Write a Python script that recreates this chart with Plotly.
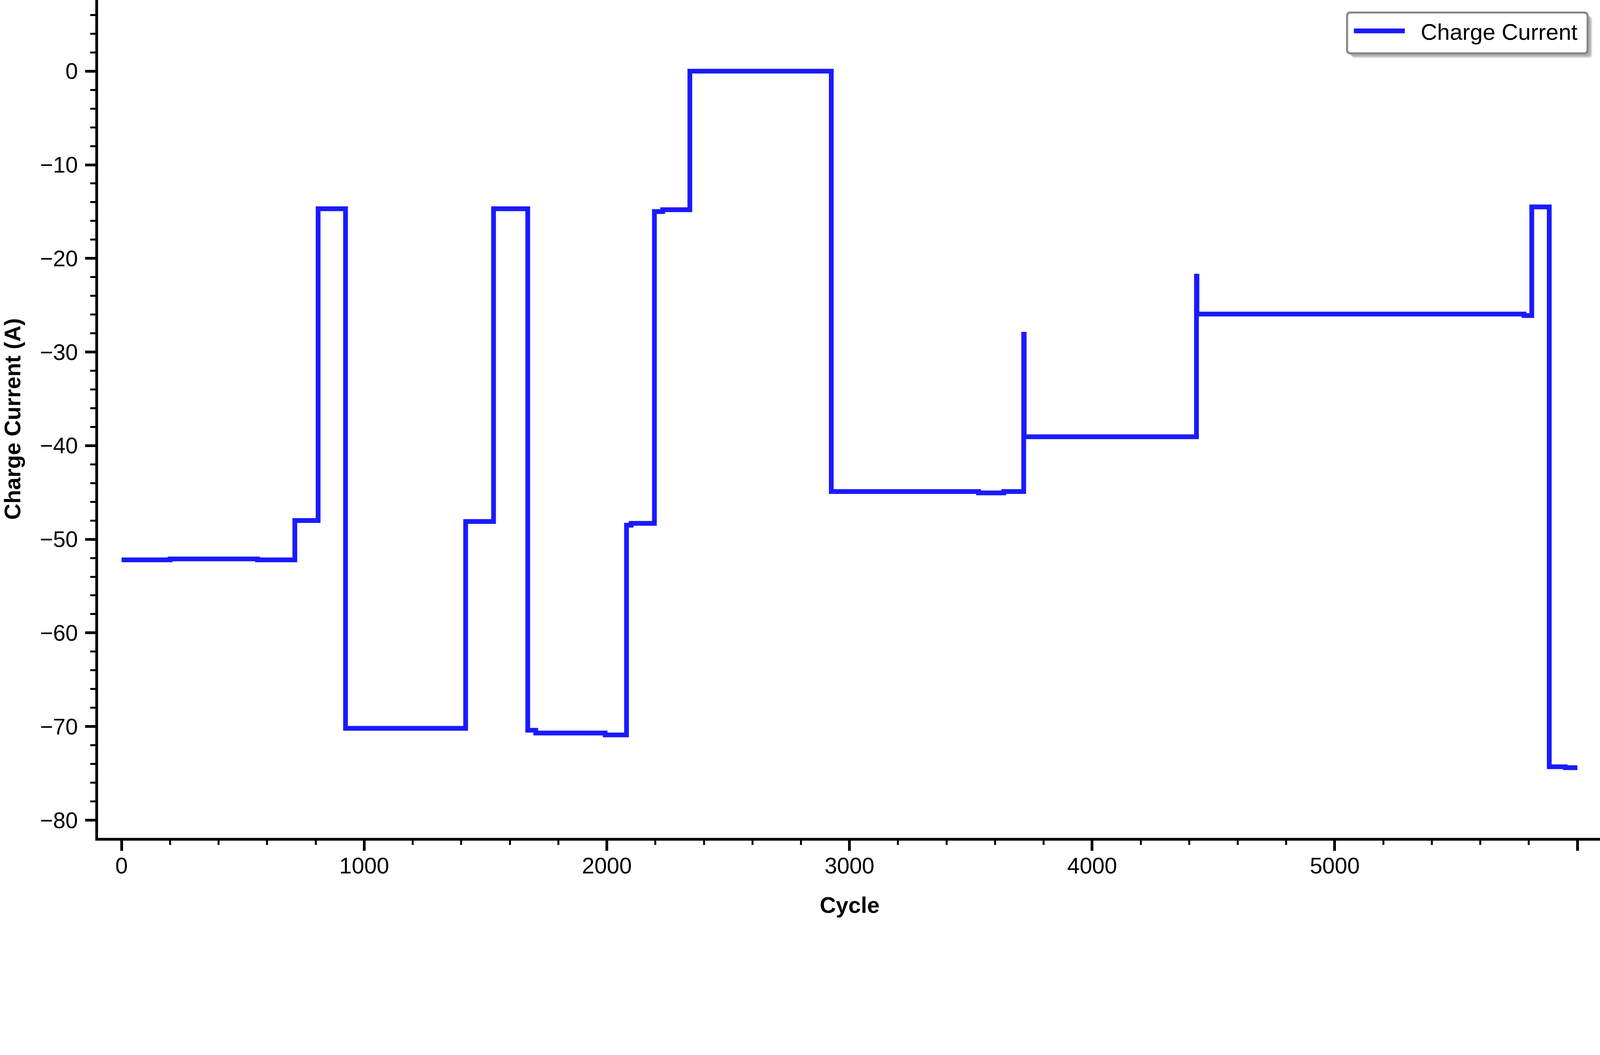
import plotly.graph_objects as go

# step data: cycle where a level starts, current at that level
cycle = [0, 200, 560, 714, 810, 923, 1418, 1533, 1674, 1707, 1993, 2081, 2100,
         2196, 2230, 2342, 2925, 3532, 3636, 3718, 3720, 4430, 4432, 5780, 5812,
         5884, 5950, 6000]
current = [-52.2, -52.1, -52.2, -48.0, -14.7, -70.2, -48.1, -14.7, -70.4, -70.7,
           -70.9, -48.5, -48.3, -15.0, -14.8, 0.0, -44.9, -45.05, -44.9, -28.1,
           -39.05, -21.9, -25.95, -26.1, -14.5, -74.3, -74.4, -74.4]

series_name = "Charge Current"
line_color = "#1a1aff"

# the browser renders at ~1.15 device pixels per css pixel,
# so every size below is given in screen pixels and divided by S
S = 1.15
W, H = 4714, 2702
L, B = 289, 235
PW, PH = W - L, H - B


def c(v):
    return v / S


# pixel -> paper helpers for the hand-drawn legend box
def px(fx):
    return (fx - L) / PW


def py(fy):
    return (PH - fy) / PH


def rounded_box(x0, y0, x1, y1, r):
    rx, ry = r / PW, r / PH
    a, b, cc, d = px(x0), py(y1), px(x1), py(y0)
    return (f"M{a+rx},{b} L{cc-rx},{b} Q{cc},{b} {cc},{b+ry} L{cc},{d-ry} Q{cc},{d} {cc-rx},{d} "
            f"L{a+rx},{d} Q{a},{d} {a},{d-ry} L{a},{b+ry} Q{a},{b} {a+rx},{b} Z")


fig = go.Figure()
fig.add_trace(go.Scatter(
    x=cycle, y=current, mode="lines", name=series_name,
    line=dict(color=line_color, width=c(14), shape="hv"),
    showlegend=False,
))

font_family = "Liberation Sans, Arial, sans-serif"

fig.update_layout(
    width=round(c(W)), height=round(c(H)),
    margin=dict(l=c(L), r=0, t=0, b=c(B)),
    plot_bgcolor="white",
    paper_bgcolor="white",
    font=dict(family=font_family, size=c(66), color="black"),
    xaxis=dict(
        range=[-97, 6098],
        tick0=0, dtick=1000,
        ticks="outside", ticklen=c(30), tickwidth=c(8), tickcolor="black",
        minor=dict(dtick=200, ticks="outside", ticklen=c(13), tickwidth=c(6), tickcolor="black"),
        showline=True, linewidth=c(8), linecolor="black",
        showgrid=False, zeroline=False,
        tickfont=dict(size=c(66)),
        ticklabelstandoff=round(c(-13)),
        title=dict(text="Cycle", font=dict(size=c(66), weight="bold"), standoff=c(64)),
        automargin=False,
    ),
    yaxis=dict(
        range=[-81.9, 7.6],
        tick0=0, dtick=10,
        ticks="outside", ticklen=c(30), tickwidth=c(8), tickcolor="black",
        minor=dict(dtick=2, ticks="outside", ticklen=c(15), tickwidth=c(6), tickcolor="black"),
        showline=True, linewidth=c(8), linecolor="black",
        showgrid=False, zeroline=False,
        tickfont=dict(size=c(66)),
        ticklabelstandoff=round(c(8)),
        title=dict(text="Charge Current (A)", font=dict(size=c(66), weight="bold"), standoff=c(73)),
        automargin=False,
    ),
)

# legend drawn by hand: shadow, rounded box, line sample, label
shapes = []
for off, op in [(14, 0.25), (11, 0.35), (8, 0.45)]:
    shapes.append(dict(type="path", xref="paper", yref="paper",
                       path=rounded_box(3966 + off, 37 + off, 4674 + off, 157 + off, 10),
                       fillcolor="#909090", opacity=op, line=dict(width=0), layer="above"))
shapes.append(dict(type="path", xref="paper", yref="paper",
                   path=rounded_box(3966, 37, 4674, 157, 10),
                   fillcolor="white", line=dict(color="#888888", width=c(6)), layer="above"))
shapes.append(dict(type="line", xref="paper", yref="paper",
                   x0=px(3986), x1=px(4136), y0=py(91), y1=py(91),
                   line=dict(color=line_color, width=c(14)), layer="above"))
fig.update_layout(shapes=shapes)
fig.add_annotation(xref="paper", yref="paper", x=px(4180), y=py(94),
                   xanchor="left", yanchor="middle", showarrow=False,
                   text=series_name, font=dict(size=c(67), color="black"))

fig.write_html("out.html", config={"displayModeBar": False},
               post_script="document.body.style.margin='0px';")
